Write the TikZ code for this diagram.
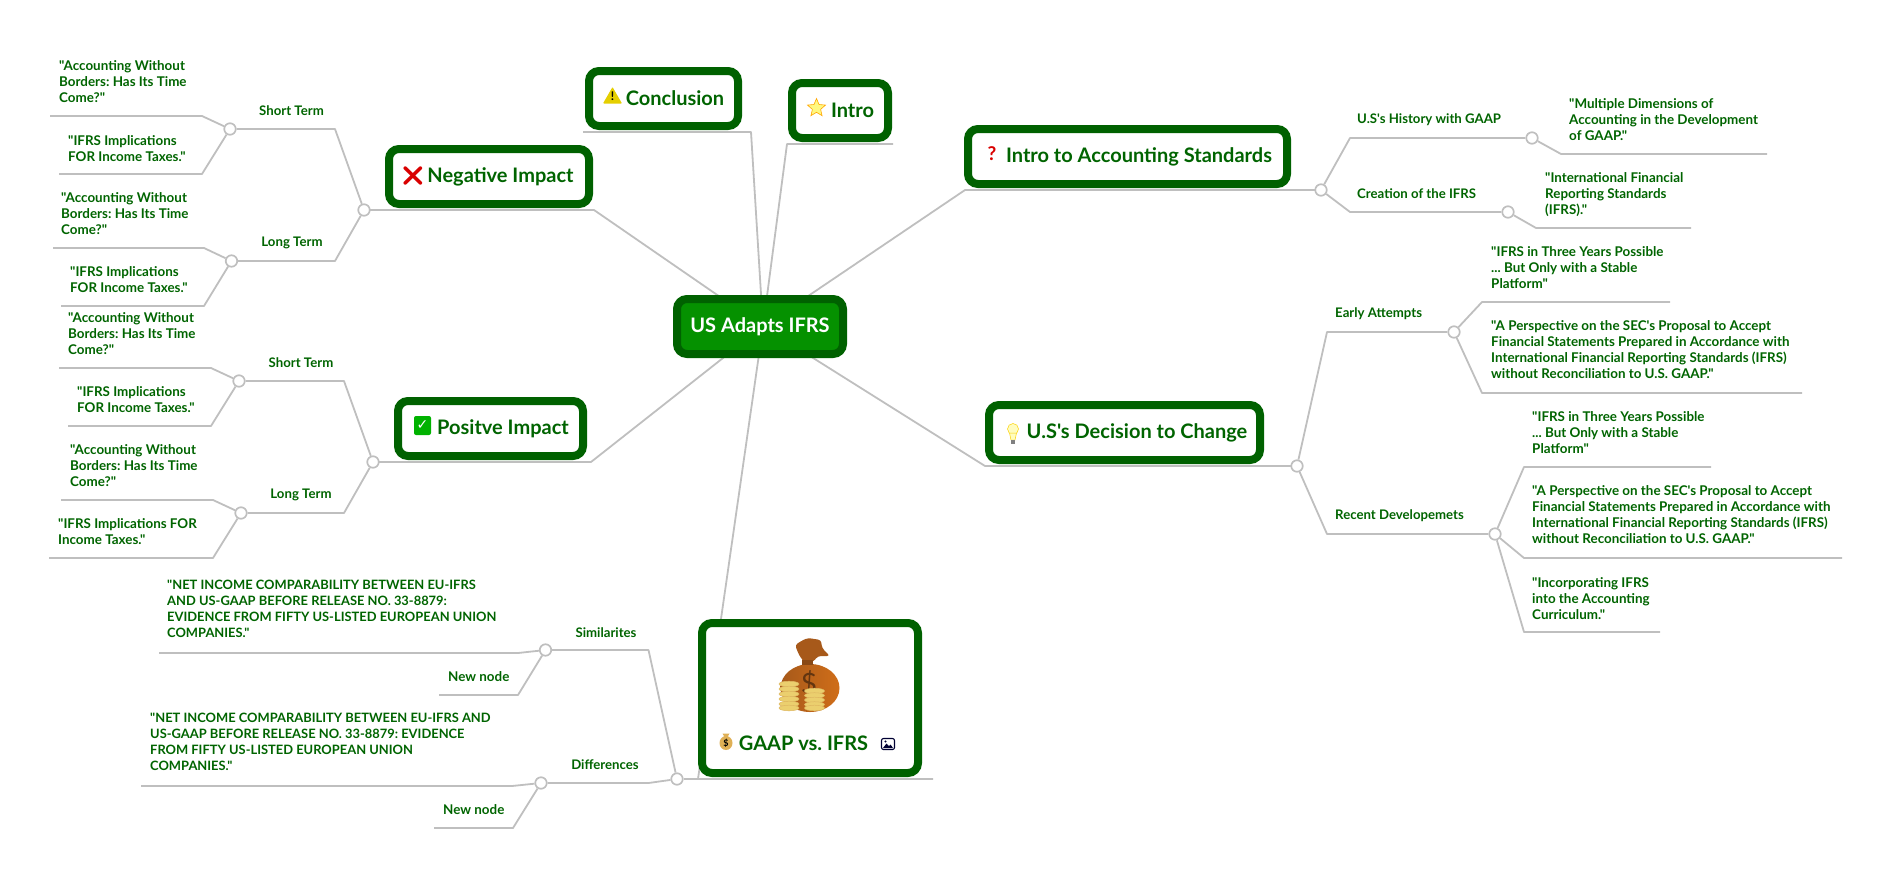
\documentclass[tikz,border=0pt]{standalone}
\usepackage{fontspec}
\setmainfont[Ligatures=TeXOff]{Lato}
\newfontfamily\emojifont{Noto Emoji}
\newfontfamily\symbolfont{DejaVu Sans}
\AtBeginDocument{\frenchspacing}
\usetikzlibrary{backgrounds,shapes.geometric}
\definecolor{textgreen}{HTML}{006400}
\definecolor{boxgreen}{HTML}{006100}
\definecolor{rootgreen}{HTML}{059100}
\definecolor{linegray}{HTML}{BFBFBF}
\definecolor{baggold}{HTML}{EBCF6E}
\definecolor{bagbrown}{HTML}{C4691F}
\tikzset{
    link/.style={draw=linegray,line width=1.8pt,line join=round},
    joint/.style={circle,draw=linegray,fill=white,line width=1.7pt,minimum size=11.5pt,inner sep=0pt},
    topicbox/.style={rectangle,rounded corners=10pt,draw=boxgreen,fill=white,line width=8pt,
        minimum height=55pt,inner sep=0pt,font=\fontsize{20}{24}\selectfont\bfseries,text=textgreen},
    leaf/.style={anchor=north west,align=left,inner sep=0pt,yshift=-2.2pt,
        font=\fontsize{13.4}{16}\selectfont\bfseries,text=textgreen},
    capsleaf/.style={leaf,font=\fontsize{12.9}{16}\selectfont\bfseries},
    twig/.style={inner sep=0pt,yshift=-1pt,font=\fontsize{13.2}{16}\selectfont\bfseries,text=textgreen},
}
\begin{document}
\begin{tikzpicture}[x=1pt,y=-1pt]
    \useasboundingbox (0,0) rectangle (1892,876);

    % boxes
    \node[topicbox,fill=rootgreen,text=white,minimum width=166pt] (central) at (760,326.5) {US Adapts IFRS};
    \node[topicbox,minimum width=149pt] (conclusion) at (663.5,98.5) {\hspace*{23pt}Conclusion};
    \node[topicbox,minimum width=96pt] (intro) at (840,110.5) {\hspace*{25pt}Intro};
    \node[topicbox,minimum width=319pt] (accounting) at (1127.5,156.5) {\hspace*{23pt}Intro to Accounting Standards};
    \node[topicbox,minimum width=271pt] (decision) at (1124.5,432.5) {\hspace*{25pt}U.S's Decision to Change};
    \node[topicbox,minimum width=200pt] (negative) at (489,176.5) {\hspace*{23pt}Negative Impact};
    \node[topicbox,minimum width=185pt] (positive) at (490.5,428.5) {\hspace*{25pt}Positve Impact};
    \node[topicbox,minimum width=216pt,minimum height=150pt] (gaap) at (810,698) {};
    \node[inner sep=0pt,text=textgreen,font=\fontsize{20}{24}\selectfont\bfseries] (gaaplabel) at (803.5,743) {GAAP vs. IFRS};

    % joints next to the boxes
    \node[joint] (jaccounting) at (1321,190) {};
    \node[joint] (jdecision) at (1297,466) {};
    \node[joint] (jnegative) at (364,210) {};
    \node[joint] (jpositive) at (373,462) {};
    \node[joint] (jgaap) at (677,779) {};

    % branches: name/joint x/knee x/y/parent
    \foreach \name/\xc/\xk/\y/\parent in {
        negshort/230/335/129/jnegative, neglong/231.5/335/261/jnegative,
        posshort/239/344/381/jpositive, poslong/241/344/513/jpositive,
        similar/545.5/648.5/650/jgaap, differ/541/648.5/783/jgaap,
        history/1532/1350/138/jaccounting, creation/1508/1350/212/jaccounting,
        early/1454/1327/332/jdecision, recent/1495/1327/534/jdecision}{
        \node[joint] (\name) at (\xc,\y) {};
        \coordinate (\name knee) at (\xk,\y);
    }

    % branch labels
    \node[twig] (lnegshort) at (291.5,110) {Short Term};
    \node[twig] (lneglong) at (292,242) {Long Term};
    \node[twig] (lposshort) at (301,362) {Short Term};
    \node[twig] (lposlong) at (301,494) {Long Term};
    \node[twig] (lsimilar) at (606,632) {Similarites};
    \node[twig] (ldiffer) at (605,764) {Differences};
    \node[twig,anchor=west] (lhistory) at (1357,119) {U.S's History with GAAP};
    \node[twig,anchor=west] (lcreation) at (1357,193) {Creation of the IFRS};
    \node[twig,anchor=west] (learly) at (1335,313) {Early Attempts};
    \node[twig,anchor=west] (lrecent) at (1335,515) {Recent Developemets};

    % leaves
    \node[leaf] (ta) at (59,58) {"Accounting Without\\Borders: Has Its Time\\Come?"};
    \node[leaf] (tb) at (68,133) {"IFRS Implications\\FOR Income Taxes."};
    \node[leaf] (tc) at (61,190) {"Accounting Without\\Borders: Has Its Time\\Come?"};
    \node[leaf] (td) at (70,264) {"IFRS Implications\\FOR Income Taxes."};
    \node[leaf] (te) at (68,310) {"Accounting Without\\Borders: Has Its Time\\Come?"};
    \node[leaf] (tf) at (77,384) {"IFRS Implications\\FOR Income Taxes."};
    \node[leaf] (tg) at (70,442) {"Accounting Without\\Borders: Has Its Time\\Come?"};
    \node[leaf] (th) at (58,516) {"IFRS Implications FOR\\Income Taxes."};
    \node[capsleaf] (ti) at (167,578) {"NET INCOME COMPARABILITY BETWEEN EU-IFRS\\AND US-GAAP BEFORE RELEASE NO. 33-8879:\\EVIDENCE FROM FIFTY US-LISTED EUROPEAN UNION\\COMPANIES."};
    \node[leaf] (tj) at (448,669) {New node};
    \node[capsleaf] (tk) at (150,711) {"NET INCOME COMPARABILITY BETWEEN EU-IFRS AND\\US-GAAP BEFORE RELEASE NO. 33-8879: EVIDENCE\\FROM FIFTY US-LISTED EUROPEAN UNION\\COMPANIES."};
    \node[leaf] (tl) at (443,802) {New node};
    \node[leaf] (tm) at (1569,96) {"Multiple Dimensions of\\Accounting in the Development\\of GAAP."};
    \node[leaf] (tn) at (1545,170) {"International Financial\\Reporting Standards\\(IFRS)."};
    \node[leaf] (to) at (1491,244) {"IFRS in Three Years Possible\\... But Only with a Stable\\Platform"};
    \node[leaf] (tp) at (1491,318) {"A Perspective on the SEC's Proposal to Accept\\Financial Statements Prepared in Accordance with\\International Financial Reporting Standards (IFRS)\\without Reconciliation to U.S. GAAP."};
    \node[leaf] (tq) at (1532,409) {"IFRS in Three Years Possible\\... But Only with a Stable\\Platform"};
    \node[leaf] (tr) at (1532,483) {"A Perspective on the SEC's Proposal to Accept\\Financial Statements Prepared in Accordance with\\International Financial Reporting Standards (IFRS)\\without Reconciliation to U.S. GAAP."};
    \node[leaf] (ts) at (1532,575) {"Incorporating IFRS\\into the Accounting\\Curriculum."};

    % connectors
    \begin{scope}[on background layer]
        \coordinate (hub) at ([xshift=3pt]central.center);
        \foreach \name/\xa/\xb/\y/\parent in {
            conclusion/583/751/132/hub, intro/893/787/144/hub,
            accounting/1321/965/190/hub, decision/1297/985/466/hub,
            negative/364/594/210/hub, positive/373/591/462/hub,
            gaap/933/698/779/hub}{
            \coordinate (\name a) at (\xa,\y);
            \coordinate (\name b) at (\xb,\y);
            \draw[link] (\name a) -- (\name b) -- (\parent);
        }
        \draw[link] (jgaap) -- (gaapb);
        \foreach \name/\parent in {negshort/jnegative,neglong/jnegative,posshort/jpositive,poslong/jpositive,
            similar/jgaap,differ/jgaap,history/jaccounting,creation/jaccounting,early/jdecision,recent/jdecision}{
            \draw[link] (\name) -- (\name knee) -- (\parent);
        }
        \foreach \name/\xa/\xb/\y/\parent in {
            lfa/50/202/116/negshort, lfb/59/202/174/negshort,
            lfc/53/204/248/neglong, lfd/61/204/306/neglong,
            lfe/59/211/368/posshort, lff/68/211/426/posshort,
            lfg/61/213/500/poslong, lfh/49/213/558/poslong,
            lfi/159/518/653/similar, lfj/439/518/695/similar,
            lfk/141/512/786/differ, lfl/434/513/828/differ,
            lfm/1767/1561/154/history, lfn/1691/1536/228/creation,
            lfo/1670/1482/302/early, lfp/1802/1482/393/early,
            lfq/1711/1524/467/recent, lfr/1842/1524/558/recent, lfs/1660/1524/632/recent}{
            \coordinate (\name a) at (\xa,\y);
            \coordinate (\name b) at (\xb,\y);
            \draw[link] (\name a) -- (\name b) -- (\parent);
        }
    \end{scope}

    % icons
    \fill[orange!20!yellow!90!black,rounded corners=0.8pt] (612.5,87) -- (622,103.5) -- (603,103.5) -- cycle;
    \node[inner sep=0pt,font=\fontsize{12}{12}\selectfont\bfseries] (warnmark) at (612.5,96.5) {!};
    \node[star,star points=5,star point ratio=2.2,draw=orange!70!yellow,fill=yellow!50,line width=0.6pt,
        minimum size=19pt,inner sep=0pt] (staricon) at (816.5,108) {};
    \node[inner sep=0pt,text=red!85!black,font=\emojifont\fontsize{19}{19}\selectfont] (crossicon) at (413,176) {❌};
    \node[inner sep=0pt,text=red!85!black,font=\fontsize{19}{19}\selectfont\bfseries] (askicon) at (992,154) {?};
    \node[rectangle,rounded corners=2pt,fill=green!70!black,text=white,minimum width=17pt,minimum height=19pt,
        inner sep=0pt,font=\symbolfont\bfseries\fontsize{14}{14}\selectfont] (checkicon) at (422.5,425.5) {✓};
    % bulb
    \fill[yellow!25,draw=yellow!70!orange,line width=0.5pt] (1013,429) circle (5.5);
    \fill[yellow!25,draw=yellow!70!orange,line width=0.5pt] (1009.5,433) -- (1011,440) -- (1015,440) -- (1016.5,433) -- cycle;
    \fill[gray] (1011,440) rectangle (1015,444);
    % small bag
    \fill[baggold!70!bagbrown] (726,743) ellipse (6.5 and 7);
    \fill[baggold!70!bagbrown] (722.5,733.5) -- (729.5,733.5) -- (727.5,737) -- (724.5,737) -- cycle;
    \node[inner sep=0pt,font=\fontsize{9}{9}\selectfont\bfseries] (dollarsmall) at (726,743.5) {\$};
    % picture mark
    \draw[black!80!blue,line width=1.1pt,rounded corners=2pt] (881.5,738.5) rectangle (894.5,749.5);
    \fill[black!80!blue] (883,748) -- (886.5,743.5) -- (889,746) -- (890.5,744.5) -- (893,748) -- cycle;
    \fill[black!80!blue] (885.5,741.5) circle (1.2);
    % money bag
    \fill[bagbrown!85!black,rounded corners=3pt] (795,645) -- (803,640) -- (808,638) -- (821,640) -- (822,648) -- (830,656) -- (818,656) -- (813,662) -- (804,662) -- (799,655) -- cycle;
    \shade[left color=bagbrown!85!black,right color=bagbrown!80!orange] (810,688) ellipse (29.5 and 24);
    \fill[bagbrown!70!black] (802,660) rectangle (813,665);
    \node[inner sep=0pt,text=bagbrown!50!black,font=\fontsize{28}{28}\selectfont] (dollarbig) at (809,684) {\$};
    \foreach \yy in {684,689,694,699,704,708}{
        \fill[baggold,draw=baggold!70!brown,line width=0.5pt] (789,\yy) ellipse (10 and 2.8);
    }
    \foreach \yy in {691,695.5,700,704.5,708}{
        \fill[baggold,draw=baggold!70!brown,line width=0.5pt] (814.5,\yy) ellipse (10 and 2.8);
    }
\end{tikzpicture}
\end{document}
